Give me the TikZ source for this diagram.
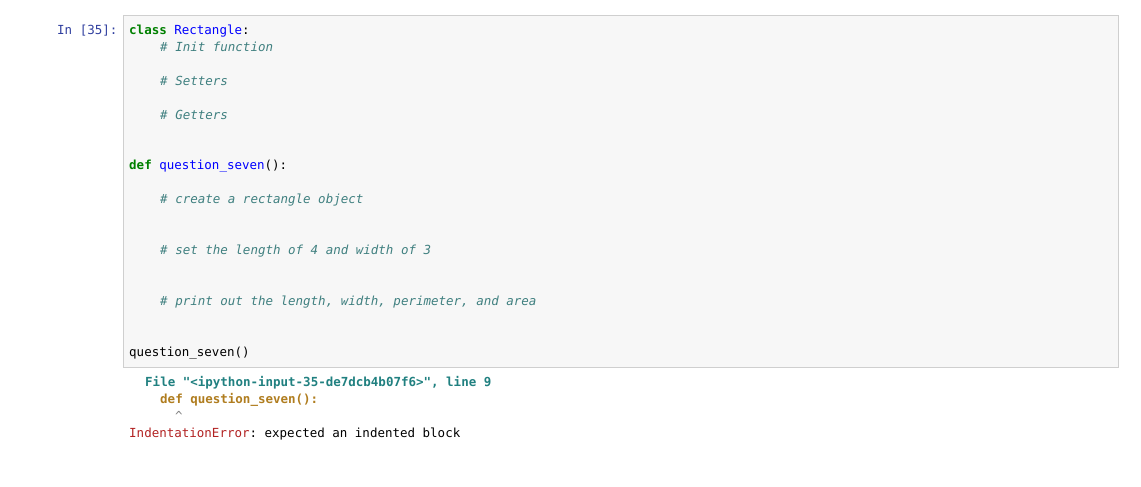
\documentclass[tikz,border=0pt]{standalone}
\usepackage{fontspec}
\setmonofont{DejaVu Sans Mono}
\definecolor{kw}{HTML}{008000}
\definecolor{cls}{HTML}{0000FF}
\definecolor{cmt}{HTML}{408080}
\definecolor{prompt}{HTML}{303F9F}
\definecolor{tbfile}{HTML}{208080}
\definecolor{tbdef}{HTML}{B07D1F}
\definecolor{err}{HTML}{B22222}
\begin{document}
\begin{tikzpicture}[x=1pt,y=-1pt,
  code/.style={anchor=west,inner sep=0pt,font=\ttfamily\fontsize{12.5}{14}\selectfont}]
\useasboundingbox (0,0) rectangle (1141,487);
\fill[white] (0,0) rectangle (1141,487);
\draw[fill={rgb,255:red,247;green,247;blue,247},draw={rgb,255:red,207;green,207;blue,207}] (123.5,15.5) rectangle (1118.5,367.5);
\node[code,text=prompt] (p) at (57,31) {In [35]:};
\node[code] (l1) at (129,31) {\textcolor{kw}{\bfseries class} \textcolor{cls}{Rectangle}:};
\node[code,text=cmt] (l2) at (160,47) {\itshape \# Init function};
\node[code,text=cmt] (l3) at (160,81) {\itshape \# Setters};
\node[code,text=cmt] (l4) at (160,115) {\itshape \# Getters};
\node[code] (l5) at (129,166) {\textcolor{kw}{\bfseries def} \textcolor{cls}{question\_seven}():};
\node[code,text=cmt] (l6) at (160,200) {\itshape \# create a rectangle object};
\node[code,text=cmt] (l7) at (160,251) {\itshape \# set the length of 4 and width of 3};
\node[code,text=cmt] (l8) at (160,302) {\itshape \# print out the length, width, perimeter, and area};
\node[code] (l9) at (129,353) {question\_seven()};
\node[code,text=tbfile] (t1) at (145,383) {\bfseries File "<ipython-input-35-de7dcb4b07f6>", line 9};
\node[code,text=tbdef] (t2) at (160,400) {\bfseries def question\_seven():};
\node[code,text=gray] (t3) at (175,416) {\^{}};
\node[code] (t4) at (129,434) {\textcolor{err}{IndentationError}: expected an indented block};
\end{tikzpicture}
\end{document}
